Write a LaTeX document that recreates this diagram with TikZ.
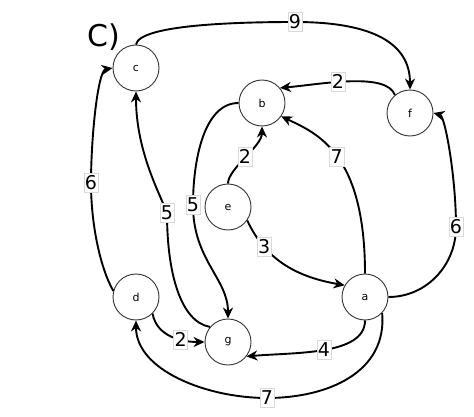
\documentclass[tikz,border=0pt]{standalone}
\usepackage{fontspec}
\setmainfont{DejaVu Sans}
\usetikzlibrary{arrows.meta}

\begin{document}
\begin{tikzpicture}[x=1pt,y=1pt,
        wt/.style={fill=white,draw=black!15,thin,inner xsep=1pt,inner ysep=2.5pt,font=\fontsize{19}{19}\selectfont},
        link/.style={draw,line width=1.9pt,-{Stealth[length=11pt,width=10pt,inset=3.5pt]}}]
            \useasboundingbox (0,0) rectangle (474,416);
            \node (title) at (104,379) {\fontsize{30}{30}\selectfont C)};
            \begin{scope}[every node/.style={circle,draw=black!80,line width=0.9pt,minimum size=46pt,inner sep=0pt,font=\fontsize{11}{11}\selectfont}]
                \node (c) at (136,348) {c};
                \node (b) at (262,313) {b};
                \node (f) at (410,303) {f};
                \node (e) at (228,209) {e};
                \node (d) at (136,119) {d};
                \node (g) at (228,74) {g};
                \node (a) at (365,119) {a};
            \end{scope}
            \coordinate (cf) at (295,394);
            \coordinate (dc) at (91,233);
            \coordinate (gc) at (167,203);
            \coordinate (bg) at (193,211);
            \coordinate (af) at (456,189);
            \coordinate (ad) at (267,18);
            \begin{scope}[every edge/.style={link}]
                \path
                    (e.north) edge [out=90,in=-90,out distance=15,in distance=20] node[wt] {2} (b.south)
                    (f.130) edge [out=110,in=5,out distance=25,in distance=40] node[wt,pos=0.58] {2} (b.40)
                    (a.north) edge [out=90,in=-25,out distance=120,in distance=40] node[wt] {7} (b.-35)
                    (e.-35) edge [out=-65,in=170] node[wt,pos=0.25] {3} (a.150)
                    (d.-45) edge [out=-80,in=180] node[wt,pos=0.65] {2} (g.west)
                    (a.south) edge [out=-90,in=5,out distance=35] node[wt] {4} (g.-38);
            \end{scope}
            \draw [link] (c.north) to[out=80,in=180,out distance=20,in distance=60] (cf) node[wt] {9}
                to[out=0,in=90,out distance=80,in distance=45] (f.north);
            \draw [link] (d.165) to[out=120,in=-90,out distance=25] (dc) node[wt] {6}
                to[out=90,in=190,in distance=15] (c.west);
            \draw [link] (g.140) to[out=170,in=-90,out distance=30,in distance=60] (gc) node[wt] {5}
                to[out=110,in=-90,out distance=20,in distance=60] (c.south);
            \draw [link] (b.west) to[out=180,in=90,out distance=35] (bg) node[wt] {5}
                to[out=-90,in=90,out distance=55,in distance=40] (g.north);
            \draw [link] (a.east) to[out=0,in=-90] (af) node[wt] {6}
                to[out=90,in=-15,out distance=50,in distance=12] (f.east);
            \draw [link] (a.-43) to[out=-85,in=0,out distance=60,in distance=60] (ad) node[wt] {7}
                to[out=180,in=-90,out distance=60,in distance=50] (d.south);
        \end{tikzpicture}
\end{document}
